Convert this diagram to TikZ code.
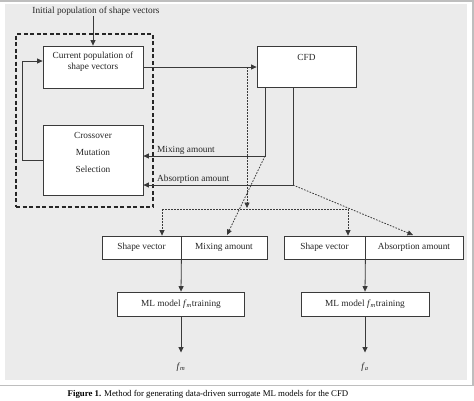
\documentclass[tikz,border=0pt]{standalone}
\usepackage{fontspec}
\setmainfont{Liberation Serif}
\usetikzlibrary{arrows.meta}
\definecolor{panelgray}{HTML}{EBEBEB}
\definecolor{framegray}{HTML}{BEBEBE}
\definecolor{linegray}{HTML}{3A3A3A}
\tikzset{
  box/.style={draw=linegray, fill=white, line width=0.8pt, inner sep=0pt},
  lbl/.style={font=\fontsize{9.3}{11}\selectfont, text=black!85, inner sep=1pt, align=center},
  arr/.style={draw=linegray, line width=0.8pt, -{Triangle[length=5.5pt,width=5pt]}},
  dotline/.style={draw=linegray, line width=0.8pt, dash pattern=on 1.6pt off 1.4pt},
  dotarr/.style={arr, dotline},
  dashbox/.style={draw=black!85, line width=1.1pt, dash pattern=on 4pt off 2.5pt}
}
\newcommand{\fsub}[1]{\textit{f}\textsubscript{\textit{#1}}}
\begin{document}
\begin{tikzpicture}[x=1pt,y=-1pt]
    \useasboundingbox (0,0) rectangle (474,400);

    % Panel and frame
    \fill[panelgray] (5,4) rectangle (467,380);
    \fill[framegray] (0,0) rectangle (474,2);
    \fill[framegray] (472,0) rectangle (474,385);
    \draw[framegray, line width=1pt] (0,385) -- (474,385);

    % Optimisation loop
    \node[dashbox, minimum width=137pt, minimum height=173pt] (ga) at (84.5,120.5) {};
    \node[lbl] (init) at (96,11) {Initial population of shape vectors};
    \node[box, minimum width=100pt, minimum height=42pt] (cur) at (93,67) {};
    \node[lbl] (curtxt) at (93,61.5) {Current population of\\shape vectors};
    \node[box, minimum width=100pt, minimum height=70pt] (gen) at (93,160) {};
    \node[lbl, font=\fontsize{9.3}{17}\selectfont] (gentxt) at (93,152) {Crossover\\Mutation\\Selection};

    % CFD
    \node[box, minimum width=99pt, minimum height=41pt] (cfd) at (306.5,67) {};
    \node[lbl] (cfdtxt) at (306.5,57) {CFD};

    % Data sets
    \node[box, minimum width=79pt, minimum height=23pt] (sv1) at (141.5,247.5) {};
    \node[box, minimum width=86pt, minimum height=23pt] (mix) at (224,247.5) {};
    \node[lbl] at (sv1) {Shape vector};
    \node[lbl] at (mix) {Mixing amount};
    \node[box, minimum width=81pt, minimum height=23pt] (sv2) at (324.5,247.5) {};
    \node[box, minimum width=98pt, minimum height=23pt] (abs) at (414,247.5) {};
    \node[lbl] at (sv2) {Shape vector};
    \node[lbl] at (abs) {Absorption amount};

    % ML models
    \node[box, minimum width=127pt, minimum height=24pt] (ml1) at (181,304) {};
    \node[lbl] at (ml1) {ML model \fsub{m}training};
    \node[box, minimum width=128pt, minimum height=24pt] (ml2) at (365,304) {};
    \node[lbl] at (ml2) {ML model \fsub{m}training};
    \node[lbl] (fm) at (181,367) {\fsub{m}};
    \node[lbl] (fa) at (365,367) {\fsub{a}};

    % Caption
    \node[lbl, text=black, font=\fontsize{8.8}{11}\selectfont] (cap) at (208,394) {\textbf{Figure 1.} Method for generating data-driven surrogate ML models for the CFD};

    % Coordinates
    \coordinate (mixc) at (265,156);
    \coordinate (absc) at (293,185);
    \coordinate (tap) at (247,67);
    \coordinate (split) at (247,209);
    \coordinate (hl) at (162,209);
    \coordinate (hr) at (348,209);
    \coordinate (mixin) at (227,235);
    \coordinate (absin) at (413,235);

    % Solid connectors
    \draw[arr] (init.south -| cur.north) -- (cur.north);
    \draw[arr] (gen.west) -- ++(-20,0) |- ([yshift=6pt]cur.west);
    \draw[arr] (cur.east) -- (cfd.west);
    \draw[arr] (cfd.south -| mixc) -- (mixc) -- (mixc -| gen.east);
    \draw[arr] (cfd.south -| absc) -- (absc) -- (absc -| gen.east);
    \node[lbl, anchor=base west] (mixlbl) at (156,152.5) {Mixing amount};
    \node[lbl, anchor=base west] (abslbl) at (156,181.5) {Absorption amount};
    \draw[arr] (sv1.south east) -- (ml1.north);
    \draw[arr] (sv2.south east) -- (ml2.north);
    \draw[arr] (ml1.south) -- ([yshift=9pt]fm.north);
    \draw[arr] (ml2.south) -- ([yshift=9pt]fa.north);

    % Dotted connectors
    \draw[dotarr] (tap) -- ([yshift=1pt]split);
    \draw[dotline] (hl) -- (hr);
    \draw[dotarr] (hl) -- (hl |- sv1.north);
    \draw[dotarr] (hr) -- (hr |- sv2.north);
    \draw[dotarr] (mixc) -- (mixin);
    \draw[dotarr] (absc) -- (absin);
\end{tikzpicture}
\end{document}
